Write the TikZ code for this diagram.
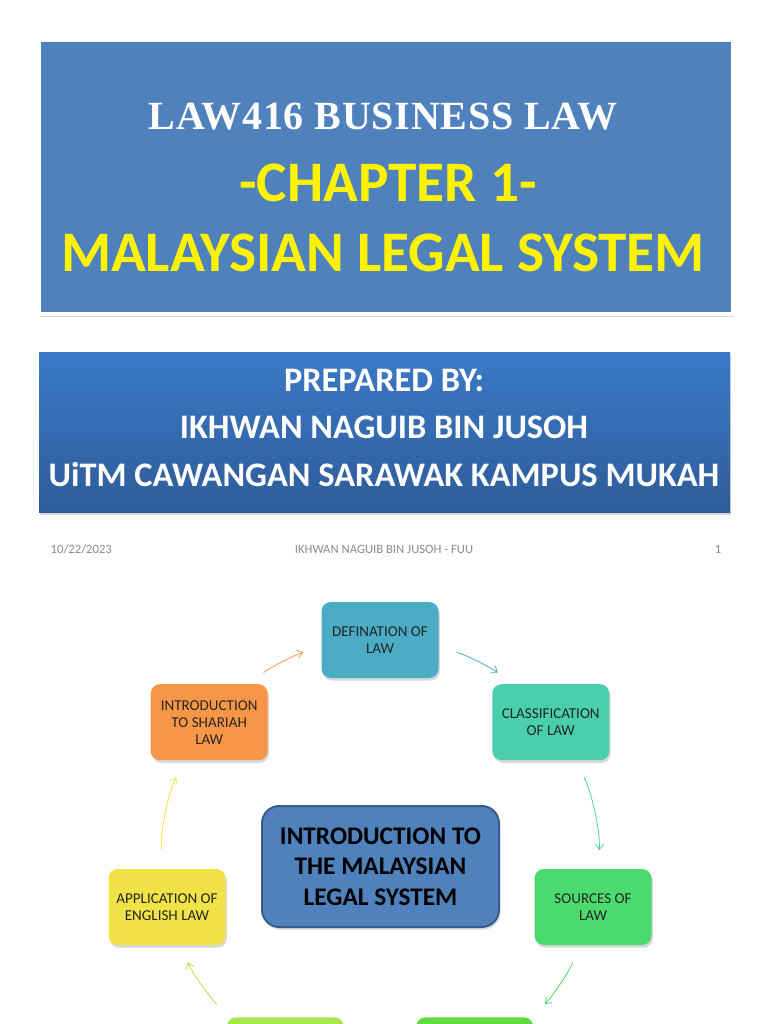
\documentclass[tikz,border=0pt]{standalone}
\usepackage{fontspec}
\setmainfont{Carlito}
\newfontfamily\timesbf{Liberation Serif}[LetterSpace=2]
\usetikzlibrary{shadows,arrows.meta}

\definecolor{slideblue}{RGB}{79,129,189}
\definecolor{bandtop}{RGB}{59,121,199}
\definecolor{bandbot}{RGB}{46,92,153}
\definecolor{hubline}{RGB}{56,93,138}
\definecolor{defncol}{RGB}{75,172,198}
\definecolor{classcol}{RGB}{74,207,172}
\definecolor{srccol}{RGB}{74,218,110}
\definecolor{brcol}{RGB}{91,222,61}
\definecolor{blcol}{RGB}{169,232,76}
\definecolor{appcol}{RGB}{241,226,72}
\definecolor{shcol}{RGB}{247,150,70}
\definecolor{footgray}{RGB}{140,140,140}

\begin{document}
\begin{tikzpicture}[x=0.75pt, y=-0.75pt,
	shade/.style={drop shadow={opacity=0.3, shadow xshift=1pt, shadow yshift=-2pt}},
	cyc/.style={shade, rounded corners=7pt, minimum width=87.75pt, minimum height=57pt, align=center, text=black!85, font=\fontsize{11.3}{12.8}\selectfont},
	big/.style={anchor=base, text=yellow, font=\bfseries\fontsize{43}{43}\selectfont},
	band/.style={anchor=base, text=white, font=\bfseries\fontsize{25.8}{25.8}\selectfont},
	foot/.style={anchor=base, text=footgray, font=\fontsize{9.5}{9.5}\selectfont},
	arr/.style={line width=0.6pt, -{Straight Barb[length=4pt, width=6pt]}, shorten <=14pt, shorten >=14pt, looseness=0.86}]
	\fill[white] (0,0) rectangle (768,1024);
	\clip (0,0) rectangle (768,1024);

	% title slide
	\node[shade, fill=slideblue, draw=white, line width=3pt, minimum width=520.5pt, minimum height=205.5pt] (title) at (386,177) {};
	\node[anchor=base, text=white, font=\timesbf\bfseries\fontsize{30}{30}\selectfont] (course) at (383,129) {LAW416 BUSINESS LAW};
	\node[big] (chapter) at (388,201) {-CHAPTER 1-};
	\node[big] (topic) at (383,271) {MALAYSIAN LEGAL SYSTEM};

	\node[shade, top color=bandtop, bottom color=bandbot, minimum width=518.25pt, minimum height=120pt] (band) at (384.5,432) {};
	\node[band] (prep) at (384,391) {PREPARED BY:};
	\node[band] (name) at (384,438) {IKHWAN NAGUIB BIN JUSOH};
	\node[band] (campus) at (384,486) {UiTM CAWANGAN SARAWAK KAMPUS MUKAH};

	\node[foot, anchor=base west] (date) at (46,553) {10/22/2023};
	\node[foot] (footer) at (384,553) {IKHWAN NAGUIB BIN JUSOH - FUU};
	\node[foot] (page) at (718,553) {1};

	% cycle
	\node[shade, fill=slideblue, draw=hubline, line width=1.5pt, rounded corners=13pt, minimum width=177.75pt, minimum height=90.75pt, align=center, font=\bfseries\fontsize{19}{23}\selectfont] (hub) at (380.5,866.5) {INTRODUCTION TO\\THE MALAYSIAN\\LEGAL SYSTEM};

	\node[cyc, fill=defncol] (defn) at (380,640) {DEFINATION OF\\LAW};
	\node[cyc, fill=classcol] (class) at (550.8,722.2) {CLASSIFICATION\\OF LAW};
	\node[cyc, fill=srccol] (sources) at (593,907) {SOURCES OF\\LAW};
	\node[cyc, fill=brcol] (br) at (474.8,1055.3) {};
	\node[cyc, fill=blcol] (bl) at (285.2,1055.3) {};
	\node[cyc, fill=appcol] (app) at (167,907) {APPLICATION OF\\ENGLISH LAW};
	\node[cyc, fill=shcol] (shariah) at (209.2,722.2) {INTRODUCTION\\TO SHARIAH\\LAW};

	\draw[arr, shcol] (shariah.44.3) to[bend left=10.8] (defn.187.7);
	\draw[arr, defncol] (defn.-7.7) to[bend left=10.8] (class.135.7);
	\draw[arr, classcol] (class.-57.3) to[bend left=14.7] (sources.82.2);
	\draw[arr, srccol] (sources.251.9) to[bend left=11.6] (br.34.5);
	\draw[arr, blcol] (bl.145.5) to[bend left=11.6] (app.-71.9);
	\draw[arr, appcol] (app.97.8) to[bend left=14.7] (shariah.237.3);
\end{tikzpicture}
\end{document}
